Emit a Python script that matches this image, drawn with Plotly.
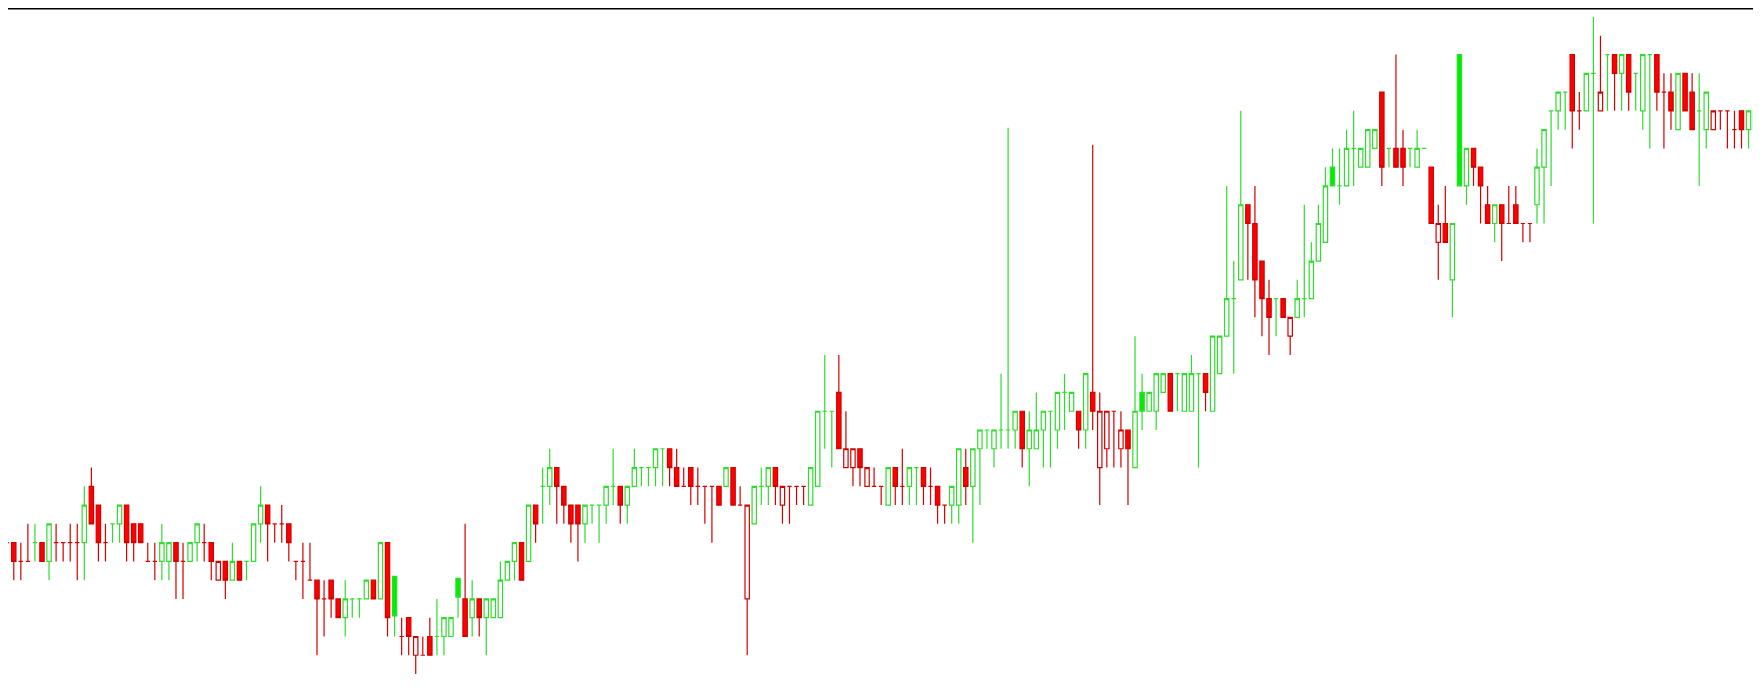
import plotly.graph_objects as go

# candle values in price ticks (10 candles per row)
opens = [
    9, 8, 8, 7, 7, 8, 8, 7, 8, 8,
    8, 8, 8, 11, 10, 8, 9, 9, 10, 9,
    9, 7, 7, 7, 7, 8, 7, 7, 8, 8,
    8, 6, 7, 6, 7, 7, 7, 9, 10, 9,
    9, 9, 7, 7, 6, 6, 5, 6, 5, 4,
    5, 5, 5, 6, 5, 8, 6.2, 3, 4, 2,
    2, 3, 3, 3, 3, 6.1, 5, 4, 5, 4,
    4, 4, 6, 7, 8, 7, 10, 11, 11, 12,
    11, 10, 10, 9, 10, 10, 10, 11, 11, 10,
    11, 12, 12, 12, 13, 13, 12, 11, 12, 11,
    11, 11, 11, 11, 12, 10, 5, 9, 11, 11,
    12, 10, 11, 11, 11, 10, 11, 15, 15, 16,
    12, 12, 13, 11, 11, 11, 10, 12, 11, 11,
    12, 12, 11, 11, 10, 10, 10, 12, 11, 13,
    14, 13, 14, 14, 14, 15, 13, 13, 14, 15,
    14, 16, 15, 15, 14, 16, 12, 13, 15, 13,
    14, 12, 16, 15, 15, 16, 17, 17, 15, 15,
    17, 17, 15, 17, 19, 21, 22, 26, 25, 23,
    21, 21, 21, 19, 20, 21, 21, 23, 24, 28,
    27, 27, 29, 28, 28, 29, 32, 29, 29, 29,
    29, 28, 29, 28, 24, 25, 22, 34, 27, 29,
    28, 26, 25, 26, 25, 26, 25, 25, 26, 28,
    31, 31, 32, 34, 31, 31, 33, 31, 34, 34,
    33, 34, 33, 31, 34, 34, 32, 32, 30, 33,
    32, 31, 30, 30, 31, 31, 30, 31, 30, 30, 31,
]
highs = [
    9, 9, 8, 8, 9, 9, 8, 9, 9, 8,
    9, 9, 11, 12, 10, 9, 9, 10, 10, 9,
    9, 8, 8, 9, 8, 8, 8, 8, 9, 9,
    8, 7, 7, 8, 7, 7, 9, 11, 10, 9,
    10, 9, 7, 8, 8, 6, 6, 6, 5, 6,
    5, 5, 6, 6, 8, 8, 6.2, 4, 4, 3,
    3, 4, 5, 4, 4, 6.1, 9, 6, 5, 5,
    5, 7, 7, 8, 8, 10, 10, 12, 13, 12,
    11, 10, 10, 10, 10, 10, 11, 13, 11, 11,
    13, 12, 12, 13, 13, 13, 13, 12, 12, 12,
    11, 11, 11, 12, 12, 11, 10, 11, 12, 12,
    12, 11, 11, 11, 11, 12, 15, 18, 15, 18,
    15, 13, 13, 12, 12, 11, 12, 12, 13, 12,
    12, 12, 12, 11, 10, 11, 13, 13, 13, 14,
    14, 14, 17, 30.1, 15, 15, 15, 16, 15, 15,
    16, 17, 16, 15, 17, 29.2, 16, 15, 15, 15,
    14, 19, 17, 16, 17, 17, 17, 17, 17, 18,
    17, 17, 19, 19, 27, 23, 31, 26, 27, 23,
    22, 21, 21, 20, 22, 26, 24, 26, 28, 29,
    29, 30, 31, 29, 30, 30, 32, 29, 34, 30,
    29, 30, 29, 28, 26, 27, 25, 34, 29, 29,
    28, 27, 26, 26, 27, 27, 25, 25, 29, 30,
    31, 32, 32, 34, 32, 33, 36, 35, 34, 34,
    34, 34, 33, 34, 34, 34, 33, 33, 33, 33,
    33, 33, 32, 31, 31, 31, 31, 31, 31, 31, 31,
]
lows = [
    9, 6, 6, 6, 7, 7, 7, 6, 7, 7,
    7, 6, 6, 9, 7, 7, 8, 8, 7, 7,
    8, 7, 6, 6, 6, 5, 5, 7, 7, 7,
    6, 6, 5, 6, 6, 6, 7, 8, 7, 8,
    8, 7, 6, 5, 6, 2, 3, 4, 4, 3,
    4, 4, 5, 5, 5, 3, 3, 2, 2, 1,
    2, 2, 2, 2, 3, 4, 3, 3, 3, 2,
    4, 4, 6, 6, 6, 7, 8, 9, 10, 9,
    9, 8, 7, 8, 9, 8, 9, 10, 9, 9,
    11, 11, 11, 11, 11, 11, 11, 11, 10, 10,
    9, 8, 10, 11, 10, 10, 2, 9, 10, 10,
    10, 9, 9, 10, 10, 10, 11, 13, 12, 13,
    12, 11, 11, 11, 11, 10, 10, 10, 10, 10,
    10, 10, 10, 9, 9, 9, 9, 10, 8, 10,
    13, 12, 13, 13, 13, 12, 11, 13, 12, 12,
    13, 14, 15, 13, 13, 14, 10, 12, 12, 12,
    10, 12, 14, 15, 14, 16, 15, 15, 15, 15,
    12, 15, 15, 17, 19, 17, 22, 22, 20, 19,
    18, 19, 20, 18, 20, 20, 21, 23, 24, 27,
    26, 27, 27, 28, 28, 29, 27, 28, 28, 27,
    28, 28, 29, 25, 22, 24, 20, 27, 26, 27,
    25, 25, 24, 23, 25, 25, 24, 24, 25, 25,
    27, 30, 30, 29, 30, 31, 25, 31, 31, 31,
    31, 31, 31, 30, 29, 31, 29, 30, 30, 31,
    30, 27, 29, 30, 30, 29, 29, 29, 29, 30, 30,
]
closes = [
    9, 8, 7, 7, 7, 8, 7, 9, 8, 8,
    8, 8, 10, 9, 8, 8, 9, 10, 8, 8,
    8, 7, 7, 8, 8, 7, 7, 8, 9, 8,
    7, 7, 6, 7, 6, 7, 9, 10, 9, 9,
    9, 8, 7, 7, 6, 5, 5, 5, 4, 5,
    5, 5, 6, 5, 8, 4, 4.1, 3, 3, 3,
    2, 2, 3, 4, 4, 5.1, 3, 5, 4, 5,
    5, 6, 7, 8, 6, 10, 9, 11, 12, 11,
    10, 9, 9, 10, 10, 10, 11, 11, 10, 11,
    12, 12, 12, 13, 13, 12, 11, 11, 11, 11,
    11, 11, 10, 12, 10, 10, 10, 11, 11, 12,
    11, 11, 11, 11, 11, 12, 15, 15, 15, 13,
    13, 13, 12, 12, 11, 11, 12, 11, 11, 12,
    12, 11, 11, 10, 10, 11, 13, 11, 13, 14,
    14, 14, 14, 14, 15, 13, 14, 14, 15, 15,
    16, 16, 16, 14, 17, 15, 15, 15, 15, 14,
    13, 15, 15, 16, 17, 17, 15, 17, 17, 17,
    17, 16, 19, 19, 21, 21, 26, 25, 22, 21,
    20, 21, 20, 20, 21, 21, 23, 25, 27, 27,
    27, 29, 29, 29, 30, 30, 28, 29, 28, 28,
    29, 29, 29, 25, 25, 24, 25, 27, 29, 28,
    27, 25, 26, 25, 25, 25, 25, 25, 28, 30,
    31, 32, 32, 31, 31, 33, 33, 32, 34, 33,
    34, 32, 33, 34, 34, 32, 32, 31, 33, 31,
    30, 31, 32, 31, 31, 31, 30, 30, 31, 31, 30,
]

n = len(closes)
idx = list(range(n))

# green when close rises vs previous close, red when it falls, unchanged keeps colour
green = []
prev_green = False
for i in range(n):
    if i == 0:
        g = False
    elif closes[i] > closes[i - 1]:
        g = True
    elif closes[i] < closes[i - 1]:
        g = False
    else:
        g = prev_green
    green.append(g)
    prev_green = g

GREEN_LINE = '#2fdc2f'
GREEN_FILL = '#00ee00'
RED_LINE = '#d40000'
RED_FILL = '#ff0000'

fig = go.Figure()
for want, line_c, fill_c in [(True, GREEN_LINE, GREEN_FILL), (False, RED_LINE, RED_FILL)]:
    sel = [i for i in idx if green[i] == want]
    fig.add_trace(go.Candlestick(
        x=sel,
        open=[opens[i] for i in sel],
        high=[highs[i] for i in sel],
        low=[lows[i] for i in sel],
        close=[closes[i] for i in sel],
        increasing=dict(line=dict(color=line_c, width=1.2), fillcolor='white'),
        decreasing=dict(line=dict(color=line_c, width=1.2), fillcolor=fill_c),
        whiskerwidth=0,
        showlegend=False,
    ))

# ranges shifted to make up for the page's 8px body margin
fig.update_layout(
    width=1761, height=688,
    margin=dict(l=0, r=0, t=0, b=0),
    paper_bgcolor='white', plot_bgcolor='white',
    xaxis=dict(range=[1.18, 250.9], visible=False, rangeslider=dict(visible=False)),
    yaxis=dict(range=[-0.17, 36.48], visible=False),
    boxgap=0.12,
    shapes=[dict(type='line', xref='paper', yref='paper', x0=0, x1=1, y0=0.999, y1=0.999,
                 line=dict(color='black', width=1.5))],
)

fig.write_html("out.html")
